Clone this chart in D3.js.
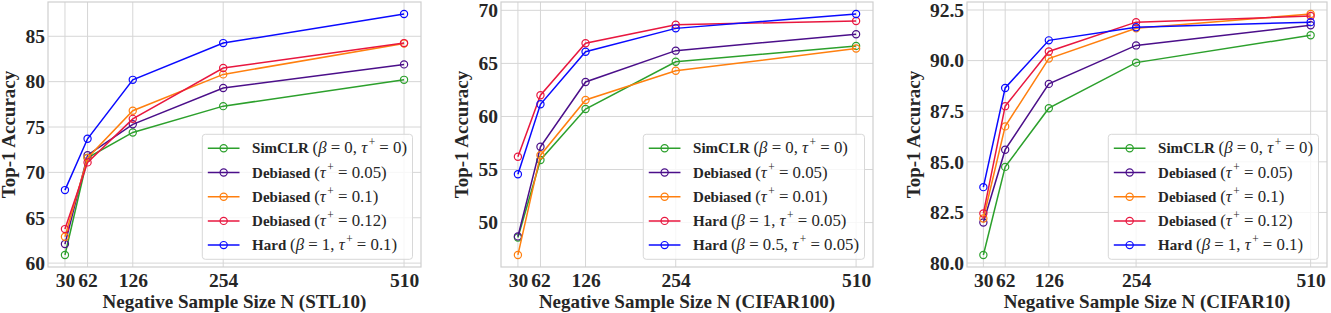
<html>
<head>
  <meta charset="utf-8">
  <script src="https://d3js.org/d3.v7.min.js"></script>
  <style>
    body { margin: 0; background: white; }
    text { font-family: "Liberation Serif", "Times New Roman", serif; }
  </style>
  <script>
    // shared x values
    var sampleSizes = [30, 62, 126, 254, 510];

    // STL10
    var stlSimclr   = [60.9, 71.6, 74.4, 77.3, 80.2];
    var stlDeb005   = [62.1, 71.9, 75.3, 79.3, 81.9];
    var stlDeb01    = [62.9, 71.6, 76.8, 80.8, 84.2];
    var stlDeb012   = [63.75, 71.1, 75.9, 81.5, 84.25];
    var stlHard     = [68.05, 73.7, 80.2, 84.25, 87.45];

    // CIFAR100
    var c100Simclr  = [48.6, 55.9, 60.7, 65.15, 66.65];
    var c100Deb005  = [48.7, 57.15, 63.25, 66.2, 67.75];
    var c100Deb001  = [46.95, 56.35, 61.55, 64.3, 66.4];
    var c100Hard1   = [56.2, 62.0, 66.9, 68.65, 69.0];
    var c100Hard05  = [54.55, 61.15, 66.1, 68.3, 69.65];

    // CIFAR10
    var c10Simclr   = [80.4, 84.75, 87.65, 89.9, 91.25];
    var c10Deb005   = [82.0, 85.6, 88.85, 90.75, 91.75];
    var c10Deb01    = [82.2, 86.75, 90.1, 91.6, 92.3];
    var c10Deb012   = [82.45, 87.75, 90.45, 91.9, 92.2];
    var c10Hard     = [83.75, 88.65, 91.0, 91.65, 91.9];

    var stlTicks  = [60, 65, 70, 75, 80, 85];
    var c100Ticks = [50, 55, 60, 65, 70];
    var c10Ticks  = [80.0, 82.5, 85.0, 87.5, 90.0, 92.5];

    var colors = ["#2ca02c", "#4b0f8a", "#ff7f0e", "#e8173f", "#0a0aff"];

    // legend label: bold name + math parts [text, kind]  (n normal, i italic, s superscript)
    function lbl(name, parts) { return { name: name, parts: parts }; }
    var simclrLbl = lbl("SimCLR", [["(", "n"], ["β", "i"], [" = 0, ", "n"], ["τ", "i"], ["+", "s"], [" = 0)", "n"]]);
    function debLbl(v) { return lbl("Debiased", [["(", "n"], ["τ", "i"], ["+", "s"], [" = " + v + ")", "n"]]); }
    function hardLbl(b, v) { return lbl("Hard", [["(", "n"], ["β", "i"], [" = " + b + ", ", "n"], ["τ", "i"], ["+", "s"], [" = " + v + ")", "n"]]); }

    var panels = [
      { left: 48, right: 421, title: "Negative Sample Size N (STL10)", ylabX: 15,
        ticks: stlTicks, fmt: d3.format("d"),
        series: [stlSimclr, stlDeb005, stlDeb01, stlDeb012, stlHard],
        labels: [simclrLbl, debLbl("0.05"), debLbl("0.1"), debLbl("0.12"), hardLbl("1", "0.1")] },
      { left: 501, right: 873, title: "Negative Sample Size N (CIFAR100)", ylabX: 467.5,
        ticks: c100Ticks, fmt: d3.format("d"),
        series: [c100Simclr, c100Deb005, c100Deb001, c100Hard1, c100Hard05],
        labels: [simclrLbl, debLbl("0.05"), debLbl("0.01"), hardLbl("1", "0.05"), hardLbl("0.5", "0.05")] },
      { left: 967, right: 1327, title: "Negative Sample Size N (CIFAR10)", ylabX: 919.5,
        ticks: c10Ticks, fmt: d3.format(".1f"),
        series: [c10Simclr, c10Deb005, c10Deb01, c10Deb012, c10Hard],
        labels: [simclrLbl, debLbl("0.05"), debLbl("0.1"), debLbl("0.12"), hardLbl("1", "0.1")] }
    ];

    function makeChart() {
        var svg = d3.select("#chart");
        var top = 2, bottom = 267;

        panels.forEach(function(p) {
            var g = svg.append("g");
            var x = d3.scaleLinear().domain([6, 534]).range([p.left, p.right]);
            var all = d3.merge(p.series);
            var lo = d3.min(all), hi = d3.max(all), pad = (hi - lo) * 0.05;
            var y = d3.scaleLinear().domain([lo - pad, hi + pad]).range([bottom, top]);

            // grid
            g.selectAll(".gx").data(sampleSizes).enter().append("line")
                .attr("x1", d => x(d)).attr("x2", d => x(d)).attr("y1", top).attr("y2", bottom)
                .attr("stroke", "#d6d6d6").attr("stroke-width", 1);
            g.selectAll(".gy").data(p.ticks).enter().append("line")
                .attr("x1", p.left).attr("x2", p.right).attr("y1", d => y(d)).attr("y2", d => y(d))
                .attr("stroke", "#d6d6d6").attr("stroke-width", 1);
            g.append("rect").attr("x", p.left).attr("y", top)
                .attr("width", p.right - p.left).attr("height", bottom - top)
                .attr("fill", "none").attr("stroke", "#cfcfcf").attr("stroke-width", 1.2);

            // tick labels
            var ax = d3.axisBottom(x).tickValues(sampleSizes).tickSize(0).tickPadding(6.5);
            var gx = g.append("g").attr("transform", "translate(0," + bottom + ")").call(ax);
            gx.select(".domain").remove();
            gx.selectAll("text").attr("font-size", 19.5).attr("font-weight", "bold")
                .attr("fill", "#262626").attr("font-family", "Liberation Serif");
            var ay = d3.axisLeft(y).tickValues(p.ticks).tickFormat(p.fmt).tickSize(0).tickPadding(3);
            var gy = g.append("g").attr("transform", "translate(" + p.left + ",0)").call(ay);
            gy.select(".domain").remove();
            gy.selectAll("text").attr("font-size", 19.5).attr("font-weight", "bold")
                .attr("fill", "#262626").attr("font-family", "Liberation Serif");

            // axis labels
            g.append("text").attr("x", (p.left + p.right) / 2).attr("y", 307.5)
                .attr("text-anchor", "middle").attr("font-size", 19).attr("font-weight", "bold")
                .attr("fill", "#262626").text(p.title);
            g.append("text").attr("transform", "translate(" + p.ylabX + "," + ((top + bottom) / 2) + ") rotate(-90)")
                .attr("text-anchor", "middle").attr("font-size", 19).attr("font-weight", "bold")
                .attr("fill", "#262626").text("Top-1 Accuracy");

            // lines
            var line = d3.line().x((d, i) => x(sampleSizes[i])).y(d => y(d));
            p.series.forEach(function(s, k) {
                g.append("path").datum(s).attr("d", line).attr("fill", "none")
                    .attr("stroke", colors[k]).attr("stroke-width", 1.5);
                g.selectAll(".m" + k).data(s).enter().append("circle")
                    .attr("cx", (d, i) => x(sampleSizes[i])).attr("cy", d => y(d)).attr("r", 3.6)
                    .attr("fill", "none").attr("stroke", colors[k]).attr("stroke-width", 1.2);
            });

            // legend
            var lg = g.append("g");
            var box = lg.append("rect");
            var rowH = 24.2, handle = 31.7, textOff = 12.6;
            var maxW = 0;
            p.labels.forEach(function(l, k) {
                var cy = 148.3 + k * rowH;
                var t = lg.append("text").attr("class", "lt").attr("y", cy + 5).attr("font-size", 15).attr("fill", "#262626");
                t.append("tspan").attr("font-weight", "bold").text(l.name + " ");
                var afterSup = false;
                l.parts.forEach(function(pt) {
                    var ts = t.append("tspan").text(pt[0]).attr("font-size", 16.8);
                    if (pt[1] === "i") ts.attr("font-style", "italic");
                    if (pt[1] === "s") ts.attr("font-size", 11.5).attr("dy", -7).attr("dx", 1.5);
                    if (pt[1] === "n" && afterSup) ts.attr("dy", 7);
                    afterSup = pt[1] === "s";
                });
                maxW = Math.max(maxW, t.node().getComputedTextLength());
            });
            var boxW = 5.5 + handle + textOff + maxW + 7;
            var bx = p.right - 8.5 - boxW;
            box.attr("x", bx).attr("y", 134.3).attr("width", boxW).attr("height", 125)
                .attr("rx", 3).attr("fill", "white").attr("fill-opacity", 0.8)
                .attr("stroke", "#d8d8d8").attr("stroke-width", 1);
            lg.selectAll(".lt").attr("x", bx + 5.5 + handle + textOff);
            p.labels.forEach(function(l, k) {
                var cy = 148.3 + k * rowH;
                lg.append("line").attr("x1", bx + 5.5).attr("x2", bx + 5.5 + handle)
                    .attr("y1", cy).attr("y2", cy).attr("stroke", colors[k]).attr("stroke-width", 1.5);
                lg.append("circle").attr("cx", bx + 5.5 + handle / 2).attr("cy", cy).attr("r", 3.6)
                    .attr("fill", "none").attr("stroke", colors[k]).attr("stroke-width", 1.2);
            });
        });
    }
  </script>
</head>
<body onload="makeChart()">
  <svg id="chart" width="1331" height="313"></svg>
</body>
</html>
